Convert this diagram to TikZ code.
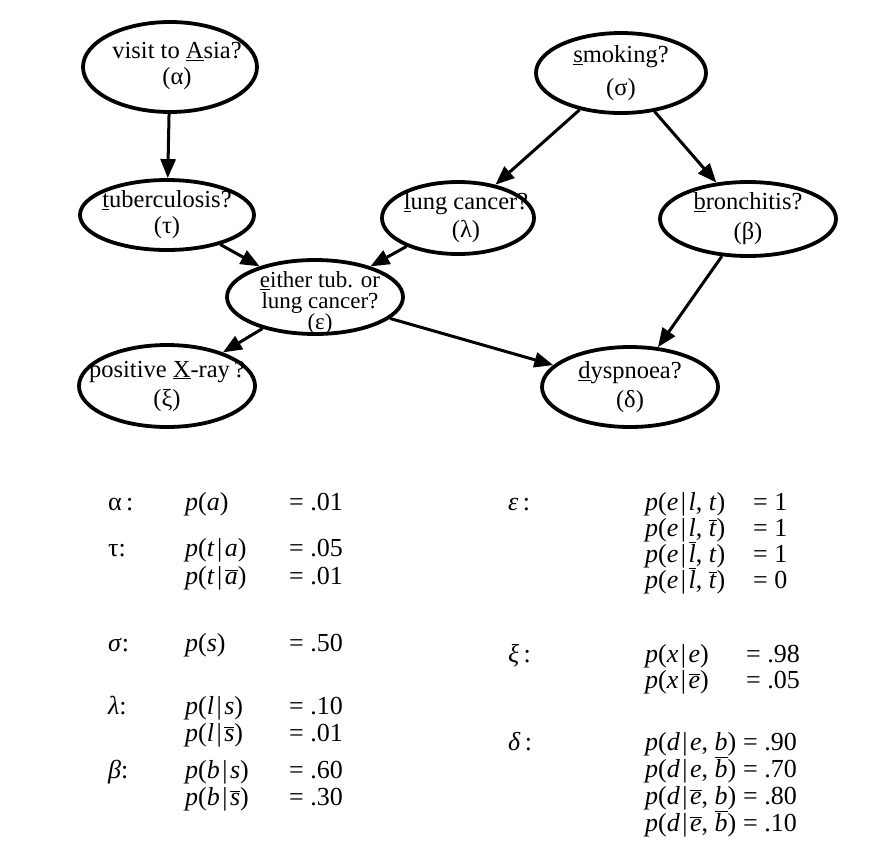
\documentclass[tikz,border=0pt]{standalone}
\usepackage{fontspec}
\setmainfont{Liberation Serif}
\usetikzlibrary{shapes.geometric,arrows.meta}
\newcommand{\pr}[1]{\textit{p}(#1)}
\newcommand{\iv}[1]{\textit{#1}}
\newcommand{\ob}[1]{\ensuremath{\overline{\mbox{\textit{#1}}}}}
\newcommand{\giv}{\kern2.5pt|\kern2.5pt}
\begin{document}
\begin{tikzpicture}[x=1pt,y=-1pt,
  var/.style={ellipse,draw,line width=3.8pt,inner sep=0pt},
  vtext/.style={inner sep=0pt,align=center,font=\fontsize{24.5}{25}\selectfont},
  link/.style={line width=3pt,-{Triangle[length=19pt,width=15pt]}},
  tab/.style={anchor=base west,inner sep=0pt,font=\fontsize{26}{27}\selectfont}]
\useasboundingbox (0,0) rectangle (870,855);

% ---- network ----
\node[var,minimum width=174pt,minimum height=90pt] (A) at (170,67) {};
\node[vtext] (At) at ([xshift=7pt,yshift=1pt]A.center) {visit to \underline{A}sia?\\[1pt](α)};
\node[var,minimum width=170pt,minimum height=80pt] (S) at (621,73) {};
\node[vtext] (St) at (S.center) {\underline{s}moking?\\[8pt](σ)};
\node[var,minimum width=174pt,minimum height=70pt] (T) at (167,215) {};
\node[vtext] (Tt) at (T.center) {\underline{t}uberculosis?\\[1pt](τ)};
\node[var,minimum width=152pt,minimum height=72pt] (L) at (458,218) {};
\node[vtext] (Lt) at ([xshift=8pt]L.center) {\underline{l}ung cancer?\\[3pt](λ)};
\node[var,minimum width=176pt,minimum height=74pt] (B) at (748,219) {};
\node[vtext] (Bt) at (B.center) {\underline{b}ronchitis?\\[5pt](β)};
\node[var,minimum width=176pt,minimum height=74pt] (E) at (315,297) {};
\node[vtext,font=\fontsize{23}{21}\selectfont] (Et) at ([xshift=5pt,yshift=-6pt]E.center)
  {\underline{e}ither tub. or\\lung cancer?\\(ε)};
\node[var,minimum width=176pt,minimum height=82pt] (X) at (167,386) {};
\node[vtext] (Xt) at (X.center) {positive \underline{X}-ray\,?\\[4pt](ξ)};
\node[var,minimum width=176pt,minimum height=80pt] (D) at (630,387) {};
\node[vtext] (Dt) at (D.center) {\underline{d}yspnoea?\\[4pt](δ)};

\draw[link] (A) -- (T);
\draw[link] (S) -- (L);
\draw[link] (S) -- (B);
\draw[link] (T) -- (E);
\draw[link] (L) -- (E);
\draw[link] (E) -- (X);
\draw[link] (E) -- (D);
\draw[link] (B) -- (D);

% ---- left table ----
\node[tab] (la) at (108,510) {α\,:};
\node[tab] (fa) at (185,510) {\pr{\iv{a}}};
\node[tab] (va) at (289,510) {= .01};

\node[tab] (lt) at (108,556) {τ:};
\node[tab] (ft1) at (185,556) {\pr{\iv{t}\giv\iv{a}}};
\node[tab] (vt1) at (289,556) {= .05};
\node[tab] (ft2) at (185,584) {\pr{\iv{t}\giv\ob{a}}};
\node[tab] (vt2) at (289,584) {= .01};

\node[tab] (ls) at (108,651) {\iv{σ}:};
\node[tab] (fs) at (185,651) {\pr{\iv{s}}};
\node[tab] (vs) at (289,651) {= .50};

\node[tab] (ll) at (108,714) {\iv{λ}:};
\node[tab] (fl1) at (185,714) {\pr{\iv{l}\giv\iv{s}}};
\node[tab] (vl1) at (289,714) {= .10};
\node[tab] (fl2) at (185,741) {\pr{\iv{l}\giv\ob{s}}};
\node[tab] (vl2) at (289,741) {= .01};

\node[tab] (lb) at (108,778) {\iv{β}:};
\node[tab] (fb1) at (185,778) {\pr{\iv{b}\giv\iv{s}}};
\node[tab] (vb1) at (289,778) {= .60};
\node[tab] (fb2) at (185,805) {\pr{\iv{b}\giv\ob{s}}};
\node[tab] (vb2) at (289,805) {= .30};

% ---- right table ----
\node[tab] (le) at (508,510) {\iv{ε}\,:};
\node[tab] (fe1) at (645,510) {\pr{\iv{e}\giv\iv{l}, \iv{t}}};
\node[tab] (ve1) at (753,510) {= 1};
\node[tab] (fe2) at (645,536) {\pr{\iv{e}\giv\iv{l}, \ob{t}}};
\node[tab] (ve2) at (753,536) {= 1};
\node[tab] (fe3) at (645,562) {\pr{\iv{e}\giv\ob{l}, \iv{t}}};
\node[tab] (ve3) at (753,562) {= 1};
\node[tab] (fe4) at (645,588) {\pr{\iv{e}\giv\ob{l}, \ob{t}}};
\node[tab] (ve4) at (753,588) {= 0};

\node[tab] (lx) at (508,662) {\iv{ξ}\,:};
\node[tab] (fx1) at (645,662) {\pr{\iv{x}\giv\iv{e}}};
\node[tab] (vx1) at (746,662) {= .98};
\node[tab] (fx2) at (645,688) {\pr{\iv{x}\giv\ob{e}}};
\node[tab] (vx2) at (746,688) {= .05};

\node[tab] (ld) at (508,750) {\iv{δ}\,:};
\node[tab] (fd1) at (645,750) {\pr{\iv{d}\giv\iv{e}, \iv{b}}};
\node[tab] (vd1) at (743,750) {= .90};
\node[tab] (fd2) at (645,777) {\pr{\iv{d}\giv\iv{e}, \ob{b}}};
\node[tab] (vd2) at (743,777) {= .70};
\node[tab] (fd3) at (645,804) {\pr{\iv{d}\giv\ob{e}, \iv{b}}};
\node[tab] (vd3) at (743,804) {= .80};
\node[tab] (fd4) at (645,831) {\pr{\iv{d}\giv\ob{e}, \ob{b}}};
\node[tab] (vd4) at (743,831) {= .10};
\end{tikzpicture}
\end{document}
